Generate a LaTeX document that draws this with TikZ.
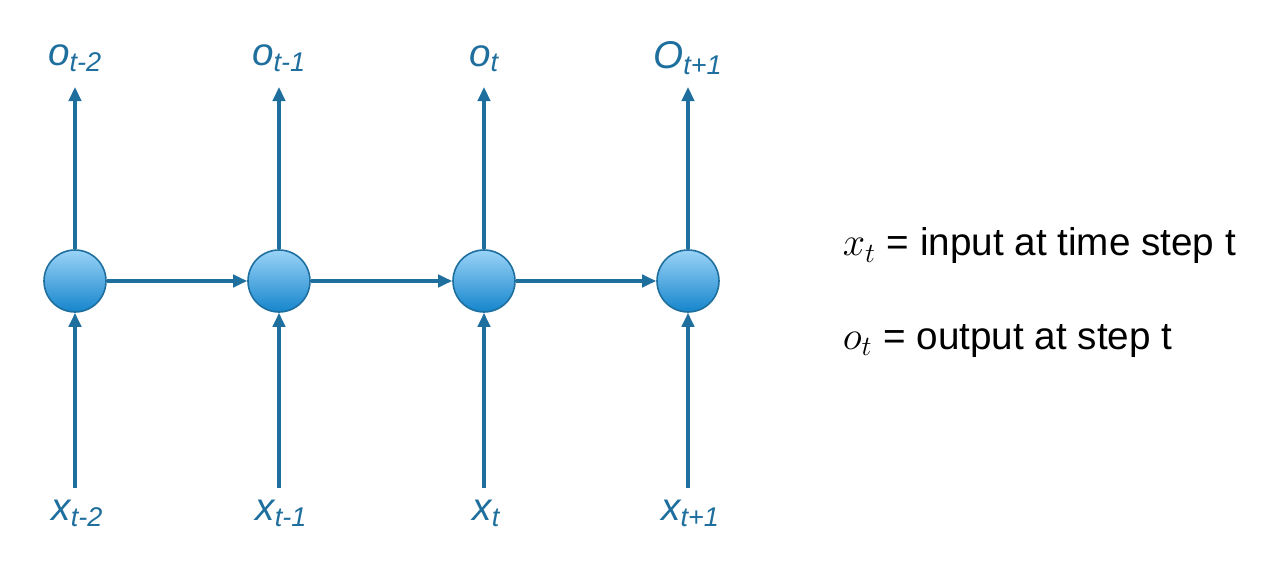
\documentclass[tikz,border=0pt]{standalone}
\usepackage{fontspec}
\setmainfont{Liberation Sans}
\usetikzlibrary{arrows.meta, shadings}
\definecolor{rnnblue}{HTML}{1E6E9E}
\definecolor{celltop}{HTML}{9AD3F7}
\definecolor{cellbot}{HTML}{1585CC}
\tikzset{
  cell/.style={circle, minimum size=1.24cm, inner sep=0pt, draw=rnnblue, line width=0.9pt, top color=celltop, bottom color=cellbot},
  arrow/.style={draw=rnnblue, line width=2.2pt, -{Triangle[length=8pt, width=7pt]}},
  lbl/.style={text=rnnblue, font=\fontsize{22}{24}\selectfont\itshape, inner sep=0pt}
}
\begin{document}
\begin{tikzpicture}
\useasboundingbox (0,0) rectangle (25.6,11.22);
% cells, inputs and outputs
\foreach \i/\x/\ot/\xt in {1/1.5/o\textsubscript{t-2}/x\textsubscript{t-2},
                         2/5.58/o\textsubscript{t-1}/x\textsubscript{t-1},
                         3/9.68/o\textsubscript{t}/x\textsubscript{t},
                         4/13.76/O\textsubscript{t+1}/x\textsubscript{t+1}} {
  \node (c\i) [cell] at (\x,5.6) {};
  \node (out\i) [lbl] at (\x,10.05) {\ot};
  \node (in\i) [lbl] at (\x+0.05,0.95) {\xt};
  \coordinate (otip\i) at (\x,9.48);
  \coordinate (ibase\i) at (\x,1.46);
  \draw [arrow] (c\i) -- (otip\i);
  \draw [arrow] (ibase\i) -- (c\i);
}
\foreach \i/\j in {1/2, 2/3, 3/4}
  \draw [arrow] (c\i) -- (c\j);
% legend
\node (leg1) [anchor=west, font=\fontsize{22}{25}\selectfont, inner sep=0pt] at (16.85,6.3) {\scalebox{1.1}{$x_t$} = input at time step t};
\node (leg2) [anchor=west, font=\fontsize{22}{25}\selectfont, inner sep=0pt] at (16.85,4.4) {\scalebox{1.1}{$o_t$} = output at step t};
\end{tikzpicture}
\end{document}
